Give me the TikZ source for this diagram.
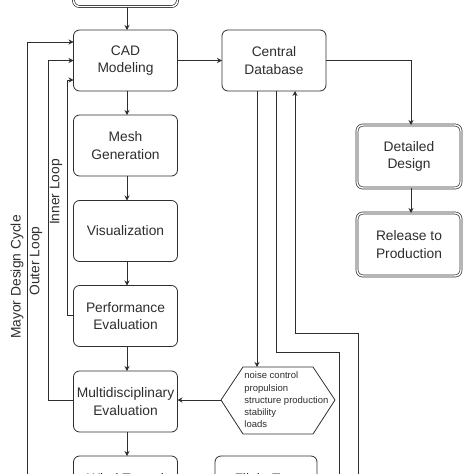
\documentclass[tikz,border=0pt]{standalone}
\usepackage{fontspec}
\setmainfont{Liberation Sans}
\usetikzlibrary{arrows.meta,calc}
\definecolor{ln}{gray}{0.18}
\begin{document}
\begin{tikzpicture}[x=1pt,y=-1pt,color=ln,line width=0.8pt,
  box/.style={draw, rounded corners=6pt, minimum width=104pt, minimum height=61pt,
    inner sep=0pt, outer sep=0pt, align=center,
    font=\fontsize{13.8}{17.5}\selectfont},
  cutbox/.style={box, font=\fontsize{13.8}{16.3}\selectfont},
  dbox/.style={box, double, double distance=1.4pt, line width=0.7pt, minimum width=104pt, minimum height=63pt},
  arr/.style={-{Stealth[length=5pt,width=5pt]}},
  lbl/.style={rotate=90, inner sep=0pt, font=\fontsize{13.8}{16}\selectfont},
  hextext/.style={anchor=west, inner sep=0pt, align=left, font=\fontsize{9.5}{12.25}\selectfont}
]
\useasboundingbox (0,0) rectangle (474,474);
\fill[white] (0,0) rectangle (474,474);
\clip (0,0) rectangle (474,474);

% boxes
\node[dbox, minimum height=61pt] (top) at (125.5,-24) {};
\node[box] (cad) at (125.5,60.5) {CAD\\Modeling};
\node[box] (db) at (274,60.5) {Central\\Database};
\node[box] (mesh) at (125.5,145.5) {Mesh\\Generation};
\node[box] (vis) at (125.5,231) {Visualization};
\node[box] (perf) at (125.5,316) {Performance\\Evaluation};
\node[box] (multi) at (125.5,401.5) {Multidisciplinary\\Evaluation};
\node[cutbox] (wind) at (125.5,486.5) {Wind Tunnel\\\mbox{}};
\node[cutbox, minimum width=102pt] (flight) at (266,486.5) {Flight Test\\\mbox{}};
\node[dbox] (det) at (409,156.5) {Detailed\\Design};
\node[dbox] (rel) at (409,244.5) {Release to\\Production};

% hexagon
\draw (221,400) coordinate (hexL) -- (243,367) -- (313,367) -- (335,400) -- (313,434) -- (243,434) -- cycle;
\coordinate (hexT) at (257,367);
\node[hextext] (hex) at (244,400) {noise control\\propulsion\\structure production\\stability\\loads};

% main column
\draw[arr] ([xshift=1.5pt]top.south) -- ([xshift=1.5pt]cad.north);
\draw[arr] ([xshift=1.5pt]cad.south) -- ([xshift=1.5pt]mesh.north);
\draw[arr] ([xshift=1.5pt]mesh.south) -- ([xshift=1.5pt]vis.north);
\draw[arr] ([xshift=1.5pt]vis.south) -- ([xshift=1.5pt]perf.north);
\draw[arr] ([xshift=1.5pt]perf.south) -- ([xshift=1.5pt]multi.north);
\draw[arr] ([xshift=1.5pt]multi.south) -- ([xshift=1.5pt]wind.north);

% right side
\draw[arr] (cad.east) -- (db.west);
\draw[arr] (db.east) -| ([xshift=2pt]det.north);
\draw[arr] ([xshift=2pt]det.south) -- ([xshift=2pt]rel.north);

% loops
\coordinate (o1) at (27,490);
\draw[arr] (o1) |- ([yshift=18.5pt]cad.west);
\coordinate (midc) at (48,60.5);
\draw[arr] ([yshift=1.5pt]multi.west) -| (midc) -- (cad.west);
\coordinate (innc) at (67,80);
\draw[arr] ([yshift=1pt]perf.west) -| (innc) -- ([yshift=-19.5pt]cad.west);

% database lines
\draw[arr] ([xshift=-17pt]db.south) -- (hexT);
\coordinate (r1) at (339,490);
\draw ([xshift=2pt]db.south) |- (339,352) -- (r1);
\coordinate (r2) at (358,490);
\draw[arr] (r2) -- (358,333) -| ([xshift=21pt]db.south);
\draw[arr] (hexL) -- (multi.east |- hexL);

% labels
\node[lbl] (l1) at (17,277) {Mayor Design Cycle};
\node[lbl] (l2) at (36,261) {Outer Loop};
\node[lbl] (l3) at (56,192) {Inner Loop};
\end{tikzpicture}
\end{document}
